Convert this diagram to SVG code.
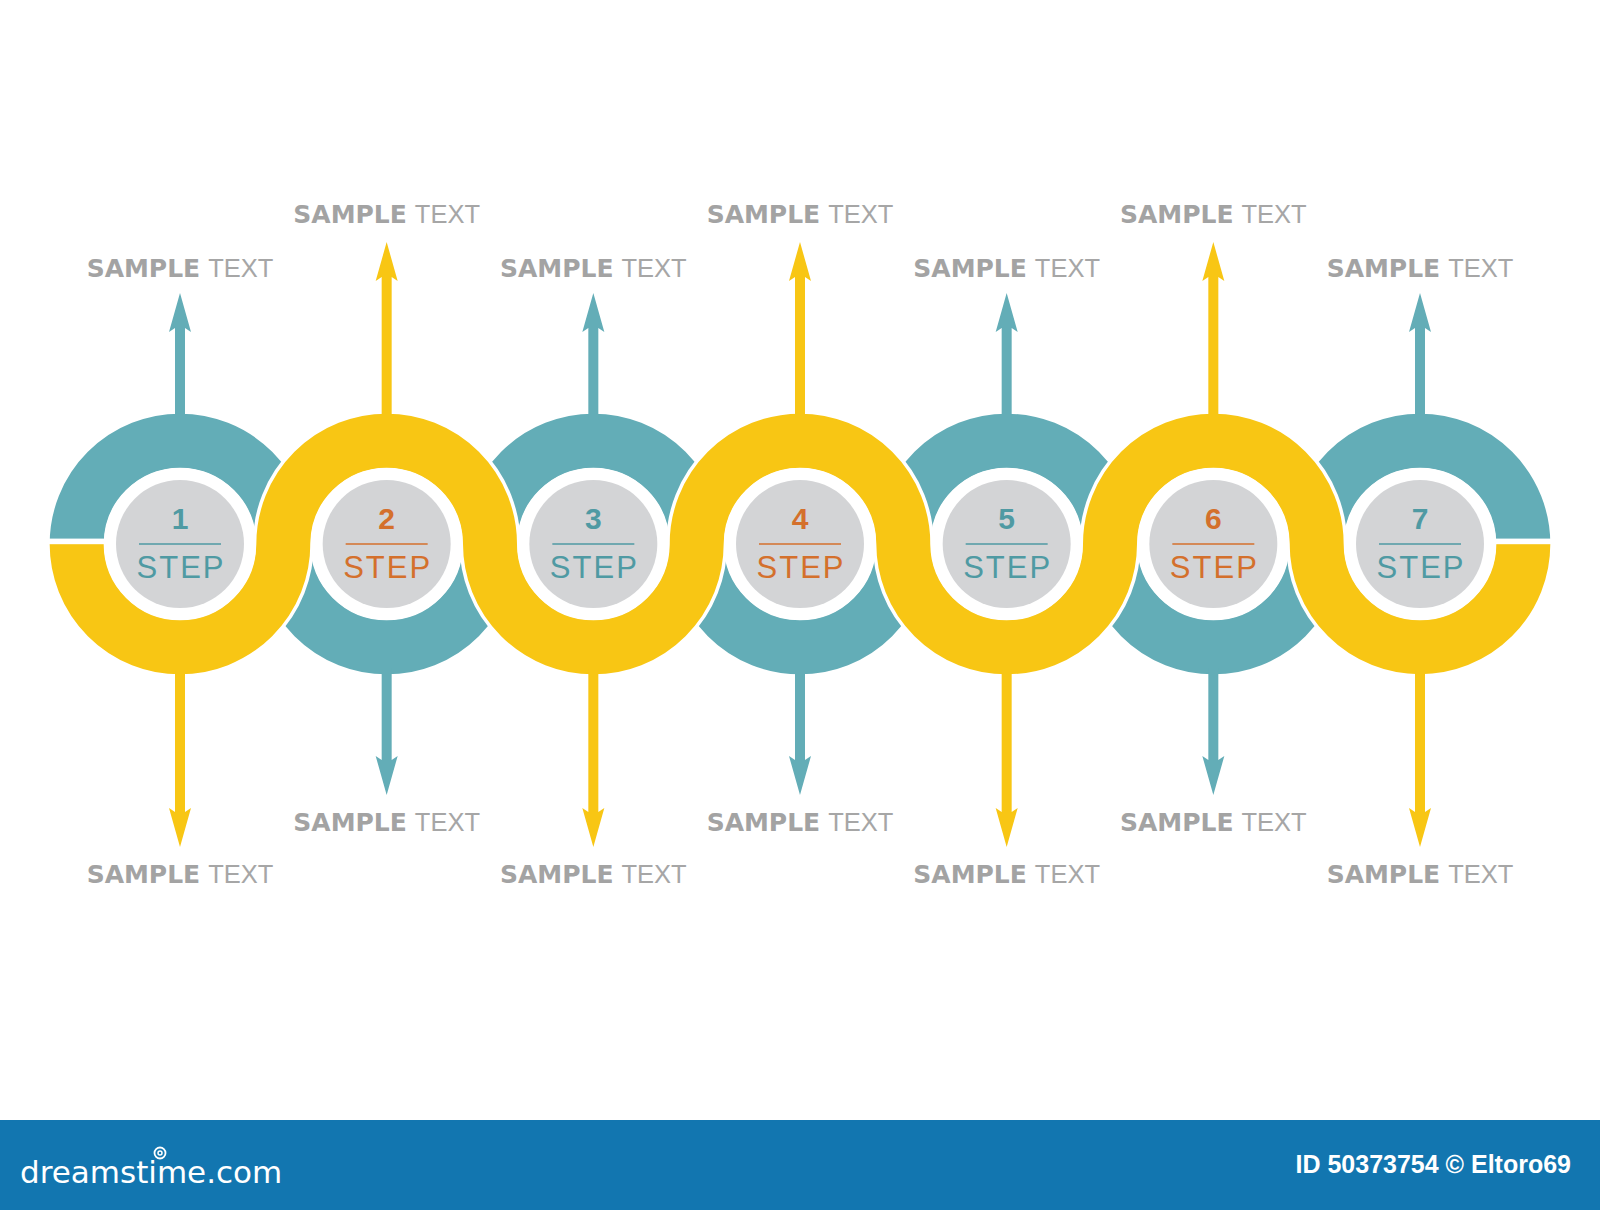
<svg xmlns="http://www.w3.org/2000/svg" xmlns:xlink="http://www.w3.org/1999/xlink" width="1600" height="1210" viewBox="0 0 1600 1210">
<style>
.ring{fill:none;stroke:#63adb7;stroke-width:54}
.band{fill:none;stroke:#f8c614;stroke-width:54}
.bandOut{fill:none;stroke:#ffffff;stroke-width:61}
.hole{fill:#ffffff}
.disc{fill:#d3d4d6}
.num{font-family:"Liberation Sans",Arial,sans-serif;font-weight:bold;font-size:30px;text-anchor:middle}
.step{font-family:"Liberation Sans",Arial,sans-serif;font-size:31px;letter-spacing:2px;text-anchor:middle}
.t{fill:#4f9aa3}
.o{fill:#d4702c}
.lt{stroke:#4f9aa3;stroke-width:1.6}
.lo{stroke:#d4702c;stroke-width:1.6}
.lbl{font-family:"Liberation Sans",Arial,sans-serif;font-size:25.5px;fill:#a6a6a6;text-anchor:middle}
.lbl .b{font-family:"DejaVu Sans",sans-serif;font-weight:bold;font-size:25px;fill:#a3a3a3}
.teal{fill:#63adb7}
.yel{fill:#f8c614}
</style>
<defs>
<path id="aS" d="M0 0 L11 39 L5 35 L5 127 L-5 127 L-5 35 L-11 39 Z"/>
<path id="aL" d="M0 0 L11 39 L5 35 L5 178 L-5 178 L-5 35 L-11 39 Z"/>
</defs>
<rect width="1600" height="1210" fill="#ffffff"/>

<g id="rings">
<circle class="ring" cx="180" cy="544" r="103.33"/>
<circle class="ring" cx="386.67" cy="544" r="103.33"/>
<circle class="ring" cx="593.33" cy="544" r="103.33"/>
<circle class="ring" cx="800" cy="544" r="103.33"/>
<circle class="ring" cx="1006.67" cy="544" r="103.33"/>
<circle class="ring" cx="1213.33" cy="544" r="103.33"/>
<circle class="ring" cx="1420" cy="544" r="103.33"/>
</g>

<g id="wave">
<path class="bandOut" d="M76.67 544 A103.33 103.33 0 0 0 283.33 544 A103.33 103.33 0 0 1 490 544 A103.33 103.33 0 0 0 696.67 544 A103.33 103.33 0 0 1 903.33 544 A103.33 103.33 0 0 0 1110 544 A103.33 103.33 0 0 1 1316.67 544 A103.33 103.33 0 0 0 1523.33 544"/>
<path class="band" d="M76.67 544 A103.33 103.33 0 0 0 283.33 544 A103.33 103.33 0 0 1 490 544 A103.33 103.33 0 0 0 696.67 544 A103.33 103.33 0 0 1 903.33 544 A103.33 103.33 0 0 0 1110 544 A103.33 103.33 0 0 1 1316.67 544 A103.33 103.33 0 0 0 1523.33 544"/>
<rect x="44" y="538.6" width="64" height="5.6" fill="#ffffff"/>
<rect x="1492" y="538.6" width="64" height="5.6" fill="#ffffff"/>
</g>

<g id="connectors">
<use xlink:href="#aS" class="teal" transform="translate(180,293)"/>
<use xlink:href="#aL" class="yel" transform="translate(180,847) scale(1,-1)"/>
<use xlink:href="#aL" class="yel" transform="translate(386.67,242)"/>
<use xlink:href="#aS" class="teal" transform="translate(386.67,795) scale(1,-1)"/>
<use xlink:href="#aS" class="teal" transform="translate(593.33,293)"/>
<use xlink:href="#aL" class="yel" transform="translate(593.33,847) scale(1,-1)"/>
<use xlink:href="#aL" class="yel" transform="translate(800,242)"/>
<use xlink:href="#aS" class="teal" transform="translate(800,795) scale(1,-1)"/>
<use xlink:href="#aS" class="teal" transform="translate(1006.67,293)"/>
<use xlink:href="#aL" class="yel" transform="translate(1006.67,847) scale(1,-1)"/>
<use xlink:href="#aL" class="yel" transform="translate(1213.33,242)"/>
<use xlink:href="#aS" class="teal" transform="translate(1213.33,795) scale(1,-1)"/>
<use xlink:href="#aS" class="teal" transform="translate(1420,293)"/>
<use xlink:href="#aL" class="yel" transform="translate(1420,847) scale(1,-1)"/>
</g>

<g id="step-1">
<circle class="hole" cx="180" cy="544" r="76"/><circle class="disc" cx="180" cy="544" r="64"/>
<text class="num t" x="180" y="529">1</text><line class="lt" x1="139" y1="544" x2="221" y2="544"/><text class="step t" x="181" y="578">STEP</text>
</g>
<g id="step-2">
<circle class="hole" cx="386.67" cy="544" r="76"/><circle class="disc" cx="386.67" cy="544" r="64"/>
<text class="num o" x="386.67" y="529">2</text><line class="lo" x1="345.67" y1="544" x2="427.67" y2="544"/><text class="step o" x="387.67" y="578">STEP</text>
</g>
<g id="step-3">
<circle class="hole" cx="593.33" cy="544" r="76"/><circle class="disc" cx="593.33" cy="544" r="64"/>
<text class="num t" x="593.33" y="529">3</text><line class="lt" x1="552.33" y1="544" x2="634.33" y2="544"/><text class="step t" x="594.33" y="578">STEP</text>
</g>
<g id="step-4">
<circle class="hole" cx="800" cy="544" r="76"/><circle class="disc" cx="800" cy="544" r="64"/>
<text class="num o" x="800" y="529">4</text><line class="lo" x1="759" y1="544" x2="841" y2="544"/><text class="step o" x="801" y="578">STEP</text>
</g>
<g id="step-5">
<circle class="hole" cx="1006.67" cy="544" r="76"/><circle class="disc" cx="1006.67" cy="544" r="64"/>
<text class="num t" x="1006.67" y="529">5</text><line class="lt" x1="965.67" y1="544" x2="1047.67" y2="544"/><text class="step t" x="1007.67" y="578">STEP</text>
</g>
<g id="step-6">
<circle class="hole" cx="1213.33" cy="544" r="76"/><circle class="disc" cx="1213.33" cy="544" r="64"/>
<text class="num o" x="1213.33" y="529">6</text><line class="lo" x1="1172.33" y1="544" x2="1254.33" y2="544"/><text class="step o" x="1214.33" y="578">STEP</text>
</g>
<g id="step-7">
<circle class="hole" cx="1420" cy="544" r="76"/><circle class="disc" cx="1420" cy="544" r="64"/>
<text class="num t" x="1420" y="529">7</text><line class="lt" x1="1379" y1="544" x2="1461" y2="544"/><text class="step t" x="1421" y="578">STEP</text>
</g>

<g id="labels">
<text class="lbl" x="180" y="277"><tspan class="b">SAMPLE</tspan><tspan dx="8">TEXT</tspan></text>
<text class="lbl" x="386.67" y="223"><tspan class="b">SAMPLE</tspan><tspan dx="8">TEXT</tspan></text>
<text class="lbl" x="593.33" y="277"><tspan class="b">SAMPLE</tspan><tspan dx="8">TEXT</tspan></text>
<text class="lbl" x="800" y="223"><tspan class="b">SAMPLE</tspan><tspan dx="8">TEXT</tspan></text>
<text class="lbl" x="1006.67" y="277"><tspan class="b">SAMPLE</tspan><tspan dx="8">TEXT</tspan></text>
<text class="lbl" x="1213.33" y="223"><tspan class="b">SAMPLE</tspan><tspan dx="8">TEXT</tspan></text>
<text class="lbl" x="1420" y="277"><tspan class="b">SAMPLE</tspan><tspan dx="8">TEXT</tspan></text>
<text class="lbl" x="180" y="883"><tspan class="b">SAMPLE</tspan><tspan dx="8">TEXT</tspan></text>
<text class="lbl" x="386.67" y="831"><tspan class="b">SAMPLE</tspan><tspan dx="8">TEXT</tspan></text>
<text class="lbl" x="593.33" y="883"><tspan class="b">SAMPLE</tspan><tspan dx="8">TEXT</tspan></text>
<text class="lbl" x="800" y="831"><tspan class="b">SAMPLE</tspan><tspan dx="8">TEXT</tspan></text>
<text class="lbl" x="1006.67" y="883"><tspan class="b">SAMPLE</tspan><tspan dx="8">TEXT</tspan></text>
<text class="lbl" x="1213.33" y="831"><tspan class="b">SAMPLE</tspan><tspan dx="8">TEXT</tspan></text>
<text class="lbl" x="1420" y="883"><tspan class="b">SAMPLE</tspan><tspan dx="8">TEXT</tspan></text>
</g>

<g id="footer">
<rect x="0" y="1120" width="1600" height="90" fill="#1276b0"/>
<text x="20" y="1183" font-family="DejaVu Sans,sans-serif" font-size="31" fill="#ffffff">dreamstime.com</text>
<circle cx="160" cy="1153" r="5.5" fill="none" stroke="#ffffff" stroke-width="1.8"/>
<circle cx="160" cy="1153" r="2" fill="none" stroke="#ffffff" stroke-width="1.5"/>
<text x="1571" y="1173" font-family="Liberation Sans,Arial,sans-serif" font-weight="bold" font-size="25" fill="#ffffff" text-anchor="end">ID 50373754 © Eltoro69</text>
</g>
</svg>
